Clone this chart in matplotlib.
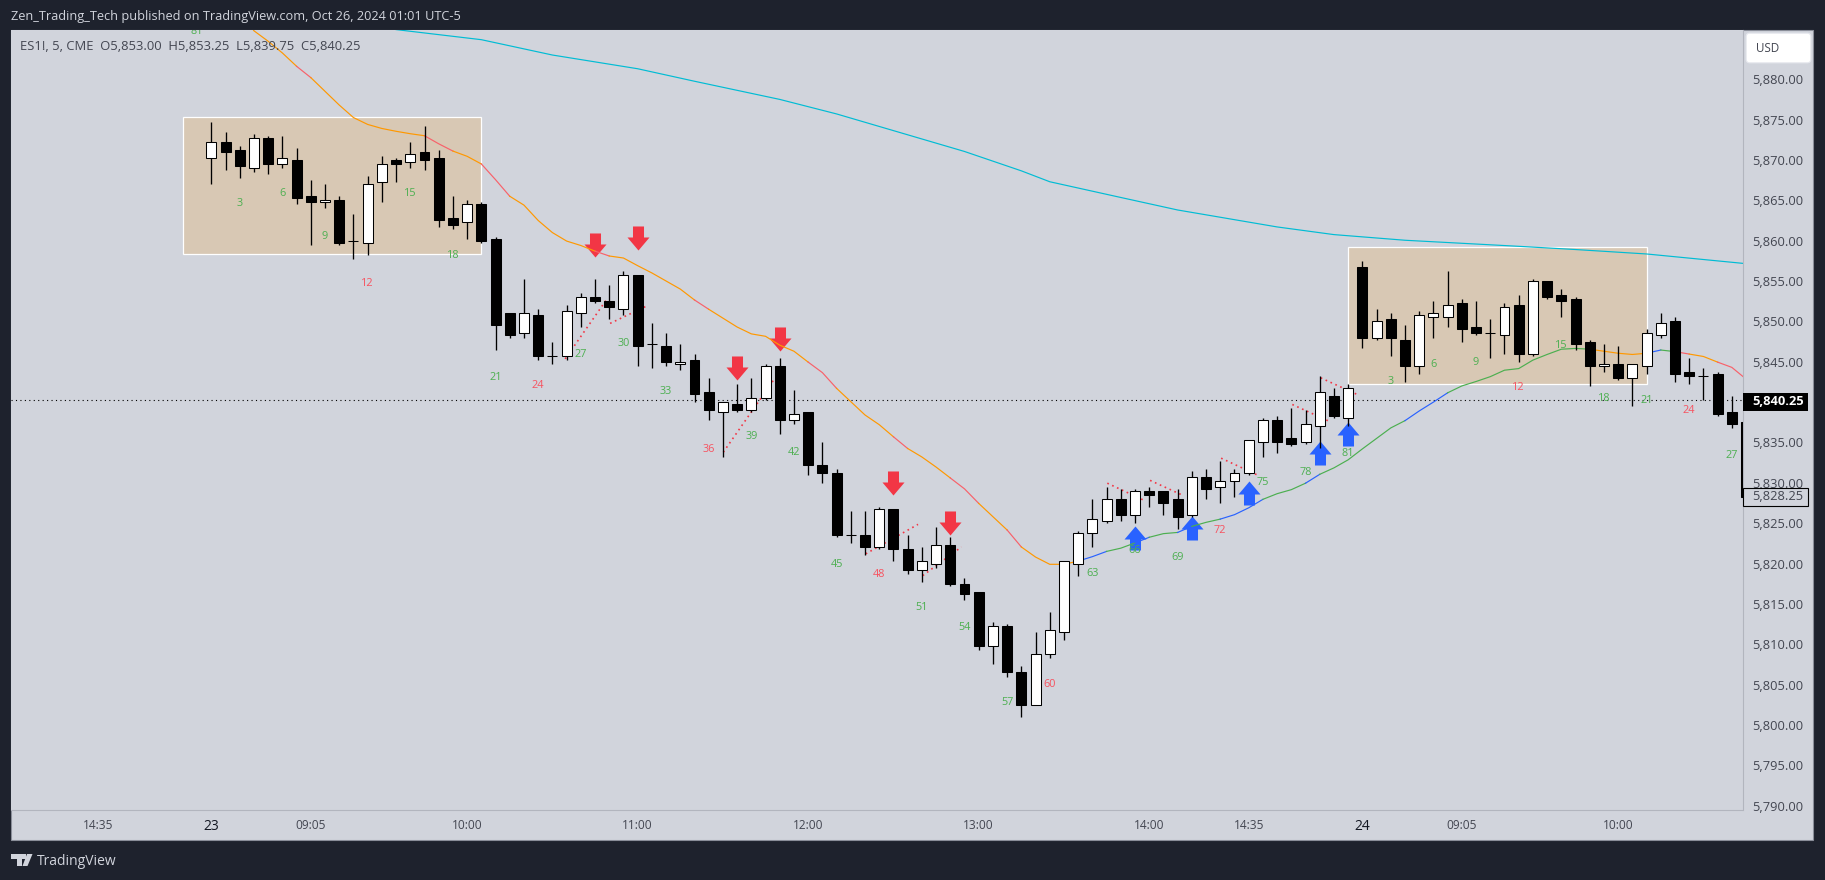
import matplotlib
matplotlib.use("Agg")
import matplotlib.pyplot as plt
from matplotlib.patches import Rectangle, Polygon, FancyBboxPatch
from matplotlib.path import Path
from matplotlib.transforms import blended_transform_factory as btf

plt.rcParams['font.family'] = ['Open Sans', 'DejaVu Sans']

W, H = 1825, 880
DARK = '#1e222d'; PANE = '#d1d4dc'; BOX = '#d8c8b4'
GREEN = '#4caf50'; RED = '#f7525f'; ORANGE = '#ff9800'; BLUE = '#2962ff'
TEAL = '#00bcd4'; ARROW_RED = '#f23645'; TEXT = '#434651'; LINE_RED = '#f8616a'

opens = [5870.25,5872.25,5871.25,5869.0,5872.75,5869.5,5870.0,5865.5,5864.75,5865.0,
 5860.0,5859.75,5867.25,5870.0,5869.75,5871.0,5870.25,5862.75,5862.25,5864.5,
 5860.25,5851.0,5848.5,5850.75,5845.75,5845.75,5851.0,5853.0,5852.5,5851.5,
 5855.75,5847.25,5847.0,5844.75,5845.25,5841.25,5838.75,5839.75,5839.0,5840.5,
 5844.5,5837.75,5838.75,5832.25,5831.25,5823.5,5823.5,5822.0,5826.75,5821.75,
 5819.25,5820.0,5822.25,5817.5,5816.5,5809.75,5812.25,5806.5,5802.5,5808.75,
 5811.5,5820.0,5823.75,5825.25,5828.0,5826.0,5829.0,5829.0,5828.0,5826.0,
 5830.75,5829.5,5830.25,5831.25,5835.0,5837.75,5835.5,5835.0,5837.0,5840.75,
 5838.0,5856.75,5848.0,5850.25,5847.75,5844.5,5850.5,5850.5,5852.25,5849.25,
 5848.5,5848.25,5852.0,5846.0,5855.0,5853.25,5852.75,5847.5,5844.5,5844.75,
 5843.0,5844.5,5848.25,5850.0,5843.75,5843.25,5843.5,5838.75,5837.5]
highs = [5874.75,5873.5,5871.75,5873.25,5873.0,5873.0,5871.5,5867.5,5867.0,5865.5,
 5863.25,5868.0,5870.5,5870.25,5872.25,5874.25,5871.25,5865.5,5865.0,5864.75,
 5860.5,5851.0,5855.25,5851.5,5847.5,5852.0,5853.5,5855.25,5854.5,5856.25,
 5855.75,5849.75,5848.5,5847.25,5846.0,5843.0,5840.0,5842.25,5843.0,5844.75,
 5845.5,5841.5,5838.75,5835.0,5831.75,5826.5,5826.5,5827.0,5826.75,5823.5,
 5822.0,5824.5,5823.25,5818.25,5816.5,5812.75,5812.5,5807.25,5811.5,5814.0,
 5820.25,5824.0,5828.0,5829.5,5829.25,5829.25,5829.5,5829.0,5829.25,5831.5,
 5831.75,5832.75,5831.75,5835.25,5838.0,5838.25,5839.25,5839.0,5843.25,5841.75,
 5842.25,5857.5,5851.5,5851.0,5849.5,5851.25,5852.5,5856.25,5852.75,5852.5,
 5850.25,5852.25,5853.25,5855.25,5855.0,5854.0,5853.0,5847.75,5847.25,5847.0,
 5844.75,5849.0,5851.0,5850.5,5845.5,5844.25,5843.75,5840.75,5837.5]
lows = [5867.0,5868.75,5867.75,5868.5,5868.25,5869.0,5864.5,5859.5,5864.0,5859.5,
 5857.75,5858.25,5864.75,5867.25,5869.0,5868.75,5861.75,5861.5,5860.25,5859.75,
 5846.5,5848.0,5848.0,5845.25,5844.75,5845.25,5849.25,5852.25,5850.25,5850.75,
 5844.5,5844.25,5844.5,5844.0,5840.0,5837.75,5833.25,5838.75,5838.75,5840.25,
 5836.0,5837.25,5831.0,5830.0,5823.25,5822.5,5821.0,5821.75,5820.25,5818.75,
 5817.75,5819.5,5817.25,5815.5,5809.25,5807.5,5806.0,5801.0,5802.5,5808.25,
 5810.5,5818.5,5822.0,5825.0,5825.25,5825.0,5827.0,5826.0,5824.25,5825.75,
 5828.0,5827.5,5828.25,5831.0,5833.25,5833.75,5834.5,5834.75,5834.25,5838.0,
 5837.0,5846.75,5847.75,5845.75,5842.5,5843.5,5848.0,5849.25,5847.5,5848.25,
 5845.5,5846.0,5845.0,5845.75,5852.75,5850.5,5846.5,5842.0,5843.75,5842.75,
 5839.5,5843.5,5848.0,5842.5,5842.25,5840.25,5838.25,5836.75,5828.25]
closes = [5872.25,5871.0,5869.25,5872.75,5869.5,5870.25,5865.25,5864.75,5865.0,5859.75,
 5860.0,5867.0,5869.5,5869.5,5870.75,5870.0,5862.5,5862.0,5864.5,5860.0,
 5849.5,5848.25,5851.0,5845.75,5845.75,5851.25,5853.0,5852.5,5851.75,5855.75,
 5847.0,5847.25,5845.0,5845.0,5841.0,5839.0,5840.0,5839.0,5840.5,5844.5,
 5837.75,5838.5,5832.25,5831.25,5823.5,5823.5,5822.0,5826.75,5821.75,5819.25,
 5820.25,5822.25,5817.5,5816.25,5809.75,5812.25,5806.5,5802.5,5808.75,5811.75,
 5820.25,5823.75,5825.5,5828.0,5826.0,5829.0,5828.5,5827.5,5825.75,5830.75,
 5829.25,5830.25,5831.25,5835.25,5837.75,5835.0,5834.75,5837.25,5841.25,5838.25,
 5841.75,5848.0,5850.0,5848.0,5844.5,5850.75,5851.0,5852.0,5849.0,5848.5,
 5848.5,5851.75,5846.0,5855.0,5853.0,5852.5,5847.25,5844.5,5844.75,5843.0,
 5844.75,5848.5,5849.75,5843.5,5843.25,5843.25,5838.5,5837.25,5828.25]
bars = list(range(1, len(opens) + 1))

ema_bars = list(range(3, 110))
ema_vals = [5888.5,5886.0,5884.7,5883.25,5881.6,5880.2,5878.5,5876.8,5875.25,5874.4,
 5873.9,5873.55,5873.25,5873.0,5872.0,5871.1,5870.45,5869.5,5867.55,5865.5,
 5864.4,5862.5,5861.0,5859.95,5859.4,5858.7,5858.1,5857.85,5856.9,5856.0,
 5855.0,5854.0,5852.65,5851.5,5850.4,5849.3,5848.45,5848.15,5847.05,5846.3,
 5844.95,5843.65,5841.7,5840.05,5838.4,5837.2,5835.7,5834.25,5833.2,5831.95,
 5830.6,5829.25,5827.45,5825.8,5824.15,5822.05,5820.8,5819.9,5819.9,5820.3,
 5820.85,5821.5,5821.9,5822.55,5823.25,5823.7,5823.85,5824.6,5825.1,5825.5,
 5826.05,5826.9,5827.95,5828.65,5829.15,5829.95,5831.05,5831.85,5832.85,5834.2,
 5835.5,5836.8,5837.7,5838.9,5840.0,5841.15,5842.0,5842.55,5843.15,5843.95,
 5844.15,5845.2,5845.9,5846.55,5846.65,5846.55,5846.3,5846.05,5845.9,5846.05,
 5846.45,5846.25,5845.95,5845.65,5844.95,5844.3,5842.85]
ema_switch = [3,7,8,16,18,20,22,28,29,35,36,43,45,49,50,53,55,57,58,62,64,66,67,69,70,72,75,78,79,85,88,98,102,103,104,105,107]
ema_state = [ORANGE,LINE_RED,ORANGE,LINE_RED,ORANGE,LINE_RED,ORANGE,LINE_RED,ORANGE,LINE_RED,ORANGE,
 LINE_RED,ORANGE,LINE_RED,ORANGE,LINE_RED,ORANGE,LINE_RED,ORANGE,BLUE,GREEN,BLUE,GREEN,BLUE,GREEN,
 BLUE,GREEN,BLUE,GREEN,BLUE,GREEN,ORANGE,BLUE,GREEN,LINE_RED,ORANGE,LINE_RED]

slow_bars = [14,20,25,31,35,41,45,51,54,58,60,65,69,73,76,80,85,93,97,102,109]
slow_vals = [5886.15,5884.9,5883.0,5881.3,5879.75,5877.5,5875.7,5872.6,5871.05,5868.65,5867.3,
 5865.35,5863.8,5862.6,5861.7,5860.75,5860.05,5859.3,5858.9,5858.35,5857.15]

label_bars = [0,3,6,9,12,15,18,21,24,27,30,33,36,39,42,45,48,51,54,57,60,63,66,69,72,75,78,81,
 84,87,90,93,96,99,102,105,108]
label_text = [81,3,6,9,12,15,18,21,24,27,30,33,36,39,42,45,48,51,54,57,60,63,66,69,72,75,78,81,
 3,6,9,12,15,18,21,24,27]
label_vals = [5885.9,5864.6,5865.85,5860.55,5854.75,5865.85,5858.1,5843.05,5842.0,5845.85,5847.3,
 5841.35,5834.15,5835.7,5833.8,5819.85,5818.6,5814.5,5812.05,5802.75,5805.0,5818.7,5821.55,
 5820.7,5824.05,5830.0,5831.25,5833.6,5842.5,5844.6,5844.85,5841.75,5847.05,5840.5,5840.25,
 5839.0,5833.35]
label_red = {12,24,36,48,60,72}
second_day_start = 28  # labels from this position belong to the 24th
second_day_red = {12, 24}

down_bars = [28,31,38,41,49,53]
down_vals = [5859.45,5860.3,5844.2,5847.8,5830.0,5825.05]
up_bars = [66,70,74,79,81]
up_vals = [5823.2,5824.4,5828.75,5833.7,5836.05]

dot_segments = [((25.9,28.83),(5845.35,5852.75)),((29.06,31.75),(5849.75,5852.0)),
 ((37.03,40.67),(5833.8,5843.0)),((47.05,50.73),(5821.2,5824.85)),((51.06,53.78),(5818.5,5822.05)),
 ((64.05,66.73),(5829.95,5827.75)),((67.06,69.36),(5830.3,5828.45)),((72.06,74.75),(5833.05,5830.85)),
 ((77.07,79.75),(5839.7,5837.55)),((79.07,81.75),(5843.0,5840.85))]

boxes = [(-1,20,5858.4,5875.37),(81,102,5842.2,5859.16)]

time_bars = [-7,1,8,19,31,43,55,67,74,82,89,100]
time_text = ['14:35','23','09:05','10:00','11:00','12:00','13:00','14:00','14:35','24','09:05','10:00']
price_ticks = list(range(5790, 5885, 5))
last_price = 5840.25
prev_close = 5828.25

fig = plt.figure(figsize=(W/100, H/100), dpi=100, facecolor=DARK)
fig.add_artist(Rectangle((11/W, 1-840/H), (1813-11)/W, 810/H, transform=fig.transFigure,
                         fc=PANE, ec='#8a8e99', lw=0.8, zorder=-1))
ax = fig.add_axes([11/W, 1-810/H, (1742.5-11)/W, 780/H], facecolor=PANE)
ax.set_xlim(-13.1, 108.75)
ax.set_ylim(5789.46, 5886.1)

for s in ('top', 'left'):
    ax.spines[s].set_visible(False)
for s in ('bottom', 'right'):
    ax.spines[s].set_color('#b2b5be'); ax.spines[s].set_linewidth(0.8)
ax.yaxis.tick_right()
ax.set_yticks(price_ticks)
ax.set_yticklabels([f'{v:,.2f}' for v in price_ticks])
ax.set_xticks(time_bars)
ax.set_xticklabels(time_text)
ax.tick_params(axis='y', length=0, pad=7.2, labelsize=9.3, labelcolor=TEXT)
ax.tick_params(axis='x', length=0, pad=6.5, labelsize=8.6, labelcolor=TEXT)
for t, s in zip(ax.get_xticklabels(), time_text):
    if len(s) == 2:
        t.set_color('#131722'); t.set_fontsize(10)

for x0, x1, y0, y1 in boxes:
    ax.add_patch(Rectangle((x0, y0), x1-x0, y1-y0, fc=BOX, ec='white', lw=0.9, zorder=1))

ax.axhline(last_price, color='black', lw=0.8, ls=(0, (1, 3)), zorder=1.5)

for xs, ys in dot_segments:
    ax.plot(xs, ys, color=ARROW_RED, lw=1.2, ls=(0, (1, 2.2)), zorder=1.6)

down = Path([(-5.5,12),(5.5,12),(5.5,1),(11,1),(0,-12),(-11,1),(-5.5,1),(-5.5,12)], closed=True)
up = Path([(-5.5,-12),(5.5,-12),(5.5,-1),(11,-1),(0,12),(-11,-1),(-5.5,-1),(-5.5,-12)], closed=True)
ax.plot(down_bars, down_vals, ls='none', marker=down, ms=17.3, mfc=ARROW_RED, mec='none', zorder=2)
ax.plot(up_bars, up_vals, ls='none', marker=up, ms=17.3, mfc=BLUE, mec='none', zorder=2)

ax.plot(slow_bars, slow_vals, color=TEAL, lw=0.85, zorder=2.5)
for i, start in enumerate(ema_switch):
    end = ema_switch[i+1] if i+1 < len(ema_switch) else ema_bars[-1]
    a, b = ema_bars.index(start), ema_bars.index(end)
    ax.plot(ema_bars[a:b+1], ema_vals[a:b+1], color=ema_state[i], lw=0.85, zorder=2.5)

ax.vlines(bars, lows, highs, color='black', lw=0.95, zorder=3)
up_idx = [i for i in range(len(bars)) if closes[i] > opens[i]]
dn_idx = [i for i in range(len(bars)) if closes[i] <= opens[i]]
ax.bar([bars[i] for i in up_idx], [closes[i]-opens[i] for i in up_idx],
       bottom=[opens[i] for i in up_idx], width=0.7, color='white', edgecolor='black', lw=0.75, zorder=3.2)
ax.bar([bars[i] for i in dn_idx], [opens[i]-closes[i] for i in dn_idx],
       bottom=[closes[i] for i in dn_idx], width=0.7, color='black', edgecolor='black', lw=0.75, zorder=3.2)

for i, (x, t, y) in enumerate(zip(label_bars, label_text, label_vals)):
    red = t in (label_red if i < second_day_start else second_day_red)
    ax.text(x, y, str(t), color=RED if red else GREEN, fontsize=7.8, ha='center', va='center',
            zorder=4, clip_on=True)

# price tags on the scale
tr = btf(ax.transAxes, ax.transData)
tag_w = 65.5 / (1742.5 - 11)
ax.add_patch(Rectangle((1.0, last_price-1.35), tag_w, 2.27, transform=tr, fc='black', ec='black', lw=0, clip_on=False, zorder=6))
ax.text(1.0 + 10/1731.5, last_price-0.2, f'{last_price:,.2f}', transform=tr, color='white', fontsize=9.3,
        fontweight='bold', va='center', ha='left', clip_on=False, zorder=7)
ax.add_patch(Rectangle((1.0, prev_close-1.1), tag_w, 2.2, transform=tr, fc=PANE, ec='black', lw=0.8, clip_on=False, zorder=6))
ax.text(1.0 + 10/1731.5, prev_close, f'{prev_close:,.2f}', transform=tr, color=TEXT, fontsize=9.3,
        va='center', ha='left', clip_on=False, zorder=7)

def fx(px): return px / W
def fy(py): return 1 - py / H

fig.add_artist(FancyBboxPatch((fx(1748), fy(61)), 61/W, 26/H, boxstyle='round,pad=0.001,rounding_size=0.002',
                              transform=fig.transFigure, fc='white', ec='#e6e8ee', lw=0.8, mutation_aspect=2.07))
fig.text(fx(1756), fy(48.7), 'USD', color=TEXT, fontsize=8.4, va='center', ha='left')

fig.text(fx(11), fy(16.7), 'Zen_Trading_Tech published on TradingView.com, Oct 26, 2024 01:01 UTC-5',
         color=PANE, fontsize=9.15, va='center', ha='left')
fig.text(fx(20), fy(46.7), 'ES1!, 5, CME  O5,853.00  H5,853.25  L5,839.75  C5,840.25',
         color=TEXT, fontsize=9.4, va='center', ha='left')

# TradingView mark and name
for pts in ([(11,854),(21.5,854),(21.5,866),(16.5,866),(16.5,858.5),(11,858.5)],
            [(27,854),(32.5,854),(27.5,866),(22.5,866)]):
    fig.add_artist(Polygon([(fx(a), fy(b)) for a, b in pts], closed=True, transform=fig.transFigure,
                           fc='#d1d4dc', ec='none'))
fig.add_artist(Rectangle((fx(22.3), fy(858.5)), 3.8/W, 4.5/H, transform=fig.transFigure, fc='#d1d4dc', ec='none'))
fig.text(fx(37), fy(861), 'TradingView', color=PANE, fontsize=10, va='center', ha='left')

fig.savefig('out.png', dpi=100, facecolor=DARK)
